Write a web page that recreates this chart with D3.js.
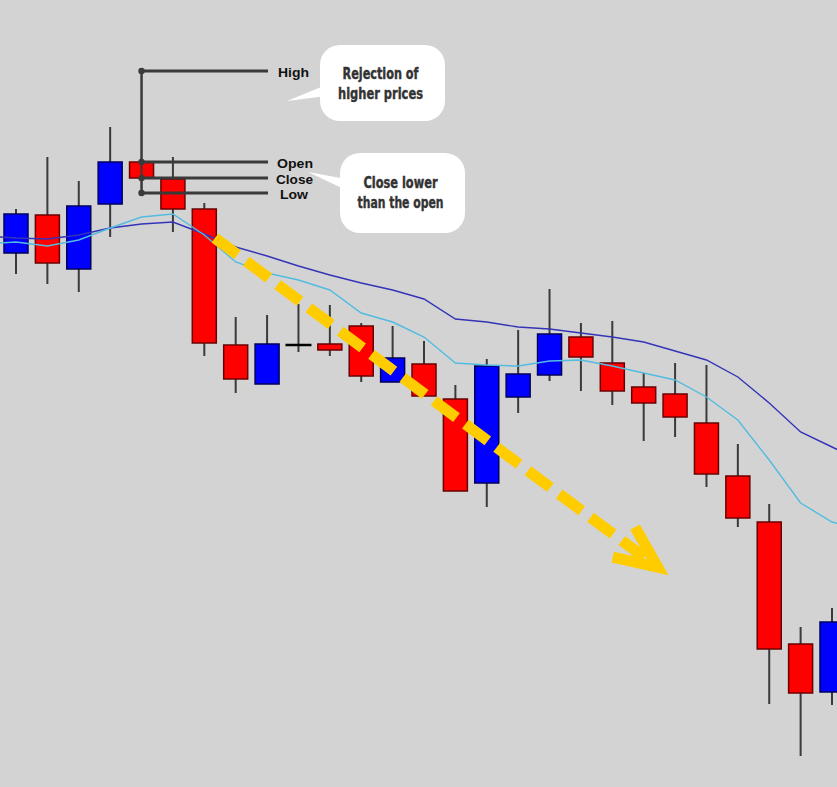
<!DOCTYPE html>
<html>
<head>
<meta charset="utf-8">
<script src="https://cdn.jsdelivr.net/npm/d3@7"></script>
<style>
html,body{margin:0;padding:0;background:#d3d3d3;}
svg{display:block;}
</style>
</head>
<body>
<svg id="chart" width="837" height="787"></svg>
<script>
// ---- data (prices) ----
const opens  = [1.3247,1.3285,1.3231,1.3296,1.3338,1.3321,1.3291,1.3155,1.3116,1.3155,1.3156,1.3174,1.3118,1.3136,1.3101,1.3017,1.3103,1.3125,1.3163,1.3137,1.3113,1.3106,1.3077,1.3024,1.2978,1.2856,1.2808];
const highs  = [1.3291,1.3343,1.3319,1.3373,1.3429,1.3343,1.3297,1.3183,1.3185,1.3196,1.3195,1.3177,1.3174,1.3159,1.3115,1.3141,1.3170,1.3211,1.3177,1.3179,1.3127,1.3137,1.3135,1.3056,1.2996,1.2873,1.2892];
const lows   = [1.3226,1.3216,1.3208,1.3263,1.3307,1.3268,1.3144,1.3107,1.3116,1.3148,1.3144,1.3118,1.3118,1.3104,1.3009,1.2993,1.3087,1.3119,1.3109,1.3095,1.3059,1.3063,1.3013,1.2973,1.2796,1.2744,1.2795];
const closes = [1.3286,1.3237,1.3294,1.3338,1.3322,1.3291,1.3157,1.3121,1.3156,1.3155,1.3150,1.3124,1.3142,1.3104,1.3009,1.3134,1.3126,1.3166,1.3143,1.3109,1.3097,1.3083,1.3026,1.2982,1.2851,1.2807,1.2878];
// moving averages, one value per bar from bar -1 to bar 27 (edges are clipped)
const maSlow = [1.3264,1.3262,1.3261,1.3265,1.3272,1.3276,1.3278,1.3266,1.3253,1.3244,1.3234,1.3225,1.3217,1.3210,1.3201,1.3181,1.3178,1.3173,1.3171,1.3167,1.3163,1.3158,1.3149,1.3140,1.3123,1.3097,1.3068,1.3053,1.3038];
const maFast = [1.3256,1.3258,1.3254,1.3260,1.3272,1.3283,1.3286,1.3265,1.3238,1.3227,1.3220,1.3210,1.3187,1.3178,1.3163,1.3137,1.3135,1.3134,1.3139,1.3140,1.3134,1.3127,1.3120,1.3103,1.3080,1.3040,1.2997,1.2978,1.2970];
const annotBar = 4;
const annotLabels = ["High","Open","Close","Low"];
const bubble1Lines = ["Rejection of","higher prices"];
const bubble2Lines = ["Close lower","than the open"];
// trend arrow: [bar position, price] start and tip
const arrowStart = [6.34, 1.3262];
const arrowTip   = [20.65, 1.2928];

// ---- layout ----
const W = 837, H = 787;
const svg = d3.select("#chart");
const x = d3.scaleLinear().domain([0, 26]).range([16, 832]);
const y = d3.scaleLinear().domain([1.2713, 1.35]).range([H, 0]);
const bw = 24;

svg.append("rect").attr("width", W).attr("height", H).attr("fill", "#d3d3d3");
svg.append("defs").append("clipPath").attr("id", "clip")
  .append("rect").attr("width", W).attr("height", H);

const candles = opens.map((o, i) => ({i, o, h: highs[i], l: lows[i], c: closes[i]}));
const g = svg.append("g").attr("clip-path", "url(#clip)");

// wicks
g.selectAll("line.wick").data(candles).join("line")
  .attr("class", "wick")
  .attr("x1", d => x(d.i)).attr("x2", d => x(d.i))
  .attr("y1", d => y(d.h)).attr("y2", d => y(d.l))
  .attr("stroke", "#3a3a3a").attr("stroke-width", 2);

// bodies
g.selectAll("rect.body").data(candles.filter(d => d.o !== d.c)).join("rect")
  .attr("class", "body")
  .attr("x", d => x(d.i) - bw / 2)
  .attr("width", bw)
  .attr("y", d => y(Math.max(d.o, d.c)))
  .attr("height", d => Math.abs(y(d.o) - y(d.c)))
  .attr("fill", d => d.c > d.o ? "#0000ff" : "#ff0000")
  .attr("stroke", d => d.c > d.o ? "#00005a" : "#6a0000")
  .attr("stroke-width", 1.5);

// doji
g.selectAll("line.doji").data(candles.filter(d => d.o === d.c)).join("line")
  .attr("class", "doji")
  .attr("x1", d => x(d.i) - bw / 2 - 1).attr("x2", d => x(d.i) + bw / 2 + 1)
  .attr("y1", d => y(d.o)).attr("y2", d => y(d.o))
  .attr("stroke", "#000").attr("stroke-width", 2.5);

// moving averages
const line = d3.line().x((d, k) => x(k - 1)).y(d => y(d));
g.append("path").datum(maSlow).attr("d", line)
  .attr("fill", "none").attr("stroke", "#3434b8").attr("stroke-width", 1.4);
g.append("path").datum(maFast).attr("d", line)
  .attr("fill", "none").attr("stroke", "#52bce0").attr("stroke-width", 1.4);

// annotation lines
const ac = candles[annotBar];
const annotVals = [ac.h, ac.o, ac.c, ac.l];
const ax = x(annotBar);
const ann = svg.append("g");
ann.selectAll("line.ann").data(annotVals).join("line")
  .attr("x1", ax).attr("x2", 268)
  .attr("y1", d => y(d)).attr("y2", d => y(d))
  .attr("stroke", "#3a3a3a").attr("stroke-width", 3);
ann.append("line").attr("x1", ax).attr("x2", ax)
  .attr("y1", y(ac.h)).attr("y2", y(ac.l))
  .attr("stroke", "#3a3a3a").attr("stroke-width", 2);
ann.selectAll("circle").data(annotVals).join("circle")
  .attr("cx", ax).attr("cy", d => y(d)).attr("r", 3.2).attr("fill", "#3a3a3a");
const labelX = [278, 277, 276, 280];
const labelW = [31, 36, 37, 28];
ann.selectAll("text").data(annotLabels).join("text")
  .attr("x", (d, k) => labelX[k])
  .attr("y", (d, k) => y(annotVals[k]) + 5.5)
  .attr("font-family", "'Liberation Sans', Arial, sans-serif")
  .attr("font-weight", "bold").attr("font-size", 13)
  .attr("textLength", (d, k) => labelW[k]).attr("lengthAdjust", "spacingAndGlyphs")
  .attr("fill", "#111")
  .text(d => d);

// bubbles
function bubble(rx, ry, rw, rh, tail, lines, baselines, widths) {
  const b = svg.append("g");
  b.append("polygon").attr("points", tail.map(p => p.join(",")).join(" ")).attr("fill", "#fff");
  b.append("rect").attr("x", rx).attr("y", ry).attr("width", rw).attr("height", rh)
    .attr("rx", 20).attr("ry", 20).attr("fill", "#fff");
  lines.forEach((t, k) => {
    b.append("text").attr("x", rx + rw / 2 - 2).attr("y", baselines[k])
      .attr("text-anchor", "middle")
      .attr("font-family", "'Liberation Sans Narrow', 'DejaVu Sans Condensed', sans-serif")
      .attr("font-weight", "bold").attr("font-size", 16)
      .attr("textLength", widths[k]).attr("lengthAdjust", "spacingAndGlyphs")
      .attr("stroke", "#333").attr("stroke-width", 0.4)
      .attr("fill", "#333").text(t);
  });
}
bubble(320, 45, 125, 76, [[287, 101], [326, 85], [326, 96]], bubble1Lines, [79, 99], [76, 85]);
bubble(340, 153, 125, 80, [[308, 172], [346, 179], [346, 190]], bubble2Lines, [188, 208], [74, 86]);

// trend arrow
const sx = x(arrowStart[0]), sy = y(arrowStart[1]);
const tx = x(arrowTip[0]), ty = y(arrowTip[1]);
const ang = Math.atan2(ty - sy, tx - sx);
const len = Math.hypot(tx - sx, ty - sy);
const shaftEnd = len - 10;
svg.append("line")
  .attr("x1", sx).attr("y1", sy)
  .attr("x2", sx + Math.cos(ang) * shaftEnd).attr("y2", sy + Math.sin(ang) * shaftEnd)
  .attr("stroke", "#ffcc00").attr("stroke-width", 11)
  .attr("stroke-dasharray", "28,11");
const vx = tx - Math.cos(ang) * 8, vy = ty - Math.sin(ang) * 8;
const armLen = 46, spread = 24 * Math.PI / 180;
const arm = s => [vx - Math.cos(ang + s) * armLen, vy - Math.sin(ang + s) * armLen];
svg.append("polyline")
  .attr("points", [arm(spread), [vx, vy], arm(-spread)].map(p => p.join(",")).join(" "))
  .attr("fill", "none").attr("stroke", "#ffcc00").attr("stroke-width", 11)
  .attr("stroke-linejoin", "miter").attr("stroke-miterlimit", 10);
</script>
</body>
</html>
